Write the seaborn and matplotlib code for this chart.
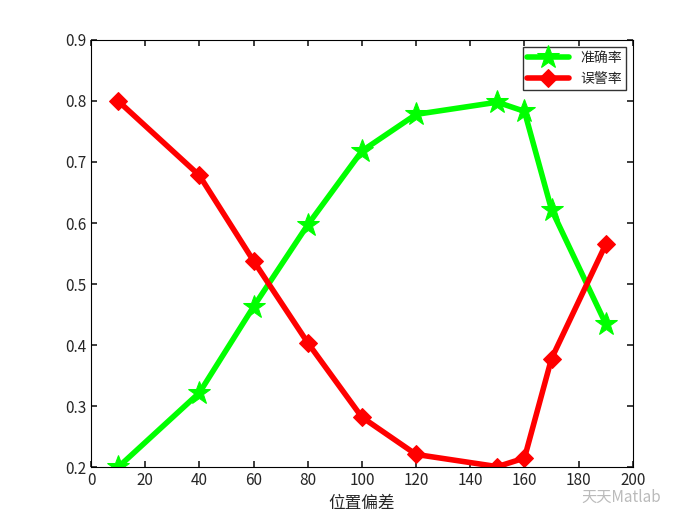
import numpy as np
import pandas as pd
import matplotlib
matplotlib.use("Agg")
import matplotlib.pyplot as plt
import seaborn as sns

sns.set_theme(style="white")
plt.rcParams['font.family'] = ['Noto Sans CJK SC', 'DejaVu Sans']

x = [10, 40, 60, 80, 100, 120, 150, 160, 170, 190]
acc = [0.200, 0.322, 0.463, 0.597, 0.718, 0.778, 0.798, 0.783, 0.622, 0.435]
far = [0.800, 0.678, 0.538, 0.404, 0.282, 0.221, 0.201, 0.215, 0.378, 0.565]

df = pd.DataFrame({"x": x, "acc": acc, "far": far})

fig = plt.figure(figsize=(7, 5.25), dpi=100)
ax = fig.add_axes([0.13, 0.11, 0.774, 0.814])
sns.lineplot(data=df, x="x", y="acc", ax=ax, color="#00ff00", lw=4,
             marker="*", markersize=17, markeredgecolor="#00ff00", label="准确率")
sns.lineplot(data=df, x="x", y="far", ax=ax, color="#ff0000", lw=4,
             marker="D", markersize=9, markeredgecolor="#ff0000", label="误警率")

ax.set_xlim(0, 200)
ax.set_ylim(0.2, 0.9)
ax.set_xticks(range(0, 201, 20))
ax.set_yticks(np.arange(0.2, 0.91, 0.1))
ax.set_yticklabels([f"{v:.1f}" for v in np.arange(0.2, 0.91, 0.1)])
ax.set_xlabel("位置偏差", fontsize=12)
ax.set_ylabel("")
ax.tick_params(direction="in", length=4, labelsize=11, left=True, bottom=True, top=True, right=True)
for s in ax.spines.values():
    s.set_color("black")
    s.set_linewidth(0.8)
leg = ax.legend(loc="upper right", fontsize=10, frameon=True, fancybox=False,
                borderpad=0.3, handlelength=3)
leg.get_frame().set_edgecolor("black")
fig.text(0.83, 0.045, "天天Matlab", color="#bbbbbb", fontsize=11)
fig.savefig("out.png", dpi=100)
